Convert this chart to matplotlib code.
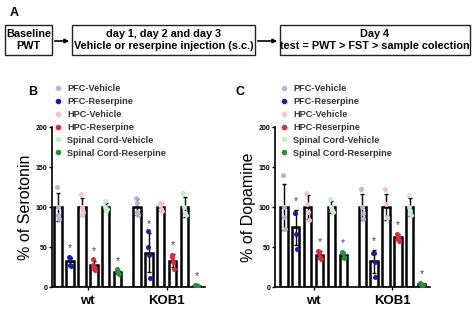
import matplotlib.pyplot as plt
import numpy as np
from matplotlib.patches import Rectangle, FancyArrowPatch
from matplotlib.lines import Line2D

plt.rcParams['font.family'] = ['Liberation Sans', 'DejaVu Sans']
plt.rcParams['font.weight'] = 'bold'

groups = ['wt', 'KOB1']
series = ['PFC-Vehicle', 'PFC-Reserpine', 'HPC-Vehicle', 'HPC-Reserpine',
          'Spinal Cord-Vehicle', 'Spinal Cord-Reserpine']
colors = ['#b4b4e6', '#1c1ca8', '#f6c4cc', '#e82830', '#bff2c6', '#25903a']

# individual animals, % of vehicle; one list per series, per genotype
serotonin_wt = [[125, 100, 90, 85], [38, 36, 28, 26], [116, 100, 90, 94],
                [35, 28, 24, 21], [107, 100, 95, 98], [22, 20, 18, 16]]
serotonin_kob1 = [[111, 105, 94, 90], [70, 50, 40, 11], [105, 103, 97, 95],
                  [40, 38, 31, 23], [118, 100, 92, 90], [3, 2, 1, 1]]
dopamine_wt = [[140, 100, 88, 72], [93, 92, 66, 47], [118, 104, 94, 84],
               [45, 42, 38, 35], [110, 100, 96, 94], [44, 42, 38, 36]]
dopamine_kob1 = [[123, 100, 92, 85], [43, 42, 31, 12], [122, 104, 86, 88],
                 [66, 64, 60, 58], [115, 100, 95, 90], [5, 4, 3, 3]]
reserpine_star = [False, True, False, True, False, True]

jitter = [-0.1, -0.03, 0.04, 0.1]


def draw_panel(ax, data_wt, data_kob1, ylabel, x0, leg_x):
    pos_wt = np.arange(6)
    pos_kob1 = np.arange(6) + 6.6
    for pos, data in ((pos_wt, data_wt), (pos_kob1, data_kob1)):
        for i, vals in enumerate(data):
            vals = np.array(vals, dtype=float)
            m = vals.mean()
            sd = vals.std(ddof=1)
            ax.bar(pos[i], m, 0.62, color='white', edgecolor='black', linewidth=1.8, zorder=1)
            ax.errorbar(pos[i], m, yerr=sd, color='black', capsize=1.5, lw=1, zorder=2)
            ax.scatter(pos[i] + np.array(jitter), vals, s=13, color=colors[i], zorder=3, lw=0)
            if reserpine_star[i]:
                ax.text(pos[i], m + sd + 5, '*', ha='center', va='bottom', fontsize=7.5,
                        color='#444444', fontweight='normal')
    ax.set_xlim(x0, 12.3)
    ax.set_ylim(0, 200)
    ax.set_yticks([0, 50, 100, 150, 200])
    ax.tick_params(axis='y', labelsize=5, length=2.5, width=1, pad=1)
    ax.set_xticks([2.5, 9.1])
    ax.set_xticklabels(groups, fontsize=9.5)
    ax.tick_params(axis='x', length=2, width=1, pad=4)
    ax.spines['top'].set_visible(False)
    ax.spines['right'].set_visible(False)
    ax.spines['left'].set_linewidth(1.2)
    ax.spines['bottom'].set_linewidth(1.2)
    ax.set_ylabel(ylabel, fontsize=11.5, labelpad=2)
    handles = [Line2D([], [], marker='o', ls='', color=c, markersize=3) for c in colors]
    ax.legend(handles, series, loc='upper left', bbox_to_anchor=(leg_x, 1.29), frameon=False,
              fontsize=6.6, handletextpad=0.4, labelspacing=0.42, handlelength=1.2,
              borderaxespad=0, labelcolor='#333333')


fig = plt.figure(figsize=(4.74, 3.23), dpi=100)

# timeline (panel A)
fig.text(10 / 474, 1 - 13 / 323, 'A', fontsize=9, ha='left', va='center')
boxes = [(5, 52, 'Baseline\nPWT'),
         (72, 255, 'day 1, day 2 and day 3\nVehicle or reserpine injection (s.c.)'),
         (280, 470, 'Day 4\ntest = PWT > FST > sample colection')]
for x1, x2, txt in boxes:
    fig.patches.append(Rectangle((x1 / 474, 1 - 55 / 323), (x2 - x1) / 474, 30 / 323,
                                 transform=fig.transFigure, fill=False, ec='#222222', lw=1))
    fig.text((x1 + x2) / 2 / 474, 1 - 40 / 323, txt, ha='center', va='center',
             fontsize=7.8, linespacing=1.15)
for x1, x2 in ((52, 72), (255, 280)):
    fig.patches.append(FancyArrowPatch((x1 / 474, 1 - 41 / 323), (x2 / 474, 1 - 41 / 323),
                                       transform=fig.transFigure, arrowstyle='-|>',
                                       mutation_scale=6, color='black', lw=1.2))

axB = fig.add_axes([52 / 474, 36 / 323, 153 / 474, 160 / 323])
draw_panel(axB, serotonin_wt, serotonin_kob1, '% of Serotonin', -0.5, -0.02)
axC = fig.add_axes([275 / 474, 36 / 323, 155 / 474, 160 / 323])
draw_panel(axC, dopamine_wt, dopamine_kob1, '% of Dopamine', -0.75, 0.0)

fig.text(33 / 474, 1 - 92 / 323, 'B', fontsize=9, ha='center', va='center')
fig.text(240 / 474, 1 - 92 / 323, 'C', fontsize=9, ha='center', va='center')

fig.savefig('out.png', dpi=100)
